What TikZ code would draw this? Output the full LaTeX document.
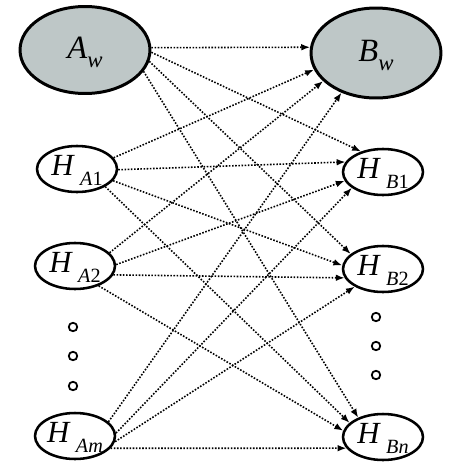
\documentclass[tikz,border=0pt]{standalone}
\usepackage{fontspec}
\setmainfont{Liberation Serif}
\usetikzlibrary{arrows.meta,shapes.geometric}
\definecolor{wfill}{RGB}{190,199,199}
\newcommand{\hsub}[2]{\smash{\raisebox{-3.5pt}{{\fontsize{17.5}{18}\selectfont\textit{#1}}\hspace{3pt}\raisebox{-6.1pt}{\fontsize{11.5}{12}\selectfont #2}}}}
\newcommand{\wsub}[1]{\smash{\raisebox{-4.6pt}{{\fontsize{18.5}{19}\selectfont\textit{#1}}\raisebox{-5.6pt}{\fontsize{13}{13}\selectfont\textit{w}}}}\hspace{5pt}}
\begin{document}
\begin{tikzpicture}[x=0.02cm,y=-0.02cm,
  big/.style={ellipse,draw,line width=1.7pt,fill=wfill,inner sep=0pt,minimum width=2.6cm,minimum height=1.74cm},
  small/.style={ellipse,draw,line width=1.45pt,fill=white,inner sep=0pt,minimum width=1.6cm,minimum height=0.92cm},
  link/.style={line width=0.9pt,dash pattern=on 0.9pt off 0.9pt,-{Latex[length=5pt,width=3.8pt]}},
  dotc/.style={circle,draw,line width=1pt,inner sep=0pt,minimum size=0.17cm}]
\useasboundingbox[fill=white] (0,0) rectangle (474,474);
\node[big] (Aw) at (85,50) {\wsub{A}};
\node[big,minimum height=1.8cm] (Bw) at (376,53) {\wsub{B}};
\node[small] (HA1) at (77,169) {\hsub{H}{\textit{A}1}};
\node[small] (HA2) at (75,266) {\hsub{H}{\textit{A}2}};
\node[small] (HAm) at (75,436) {\hsub{H}{\textit{Am}}};
\node[small] (HB1) at (383,172) {\hsub{H}{\textit{B}1}};
\node[small] (HB2) at (383,269) {\hsub{H}{\textit{B}2}};
\node[small] (HBn) at (383,437) {\hsub{H}{\textit{Bn}}};
\node[dotc] (l1) at (73,327) {};
\node[dotc] (l2) at (73,356) {};
\node[dotc] (l3) at (73,386) {};
\node[dotc] (r1) at (376,317) {};
\node[dotc] (r2) at (376,346) {};
\node[dotc] (r3) at (376,375) {};
\draw[link] (Aw.2.5) -- (Bw.175.7);
\draw[link] (Aw.-2.5) -- (HB1.137.5);
\draw[link] (Aw.-10.2) -- (HB2.155.9);
\draw[link] (Aw.-20) -- (HBn.142.9);
\draw[link] (HA1.17.5) -- (Bw.-165.6);
\draw[link] (HA1.-1.4) -- (HB1.165.6);
\draw[link] (HA1.-18) -- (HB2.175);
\draw[link] (HA1.-32.8) -- (HBn.157.5);
\draw[link] (HA2.21.5) -- (Bw.-152);
\draw[link] (HA2.2.7) -- (HB1.-167.5);
\draw[link] (HA2.-13) -- (HB2.-167.2);
\draw[link] (HA2.-40.6) -- (HBn.171);
\draw[link] (HAm.23.4) -- (Bw.-131.4);
\draw[link] (HAm.4) -- (HB1.-153.4);
\draw[link] (HAm.-8.5) -- (HB2.-148.3);
\draw[link] (HAm.-19.7) -- (HBn.-163);
\end{tikzpicture}
\end{document}
